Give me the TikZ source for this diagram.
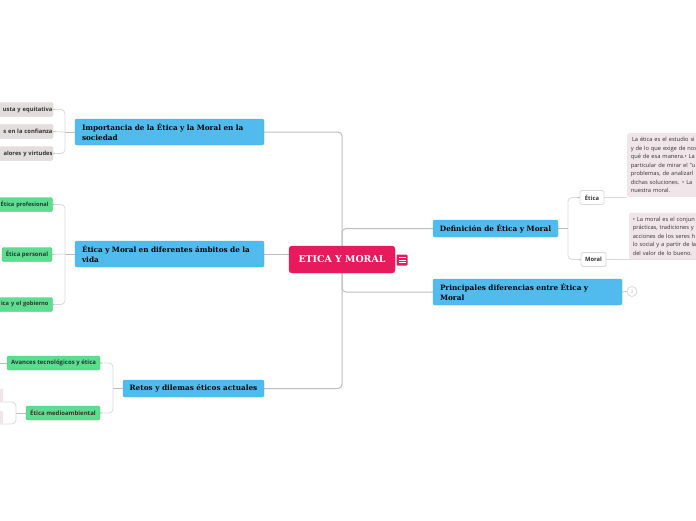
\documentclass[tikz,border=0pt]{standalone}
\usepackage{fontspec}
\setmainfont{Open Sans}
\newfontfamily\slabfont{DejaVu Serif}
\usetikzlibrary{arrows.meta}
\pgfdeclarelayer{lines}
\pgfsetlayers{lines,main}
\definecolor{rootcol}{HTML}{E81A5E}
\definecolor{bluecol}{HTML}{52BBEE}
\definecolor{blueedge}{HTML}{45AEE2}
\definecolor{greencol}{HTML}{5CDD90}
\definecolor{greenedge}{HTML}{4CC87E}
\definecolor{greycol}{HTML}{E3DDDE}
\definecolor{greyedge}{HTML}{D8D2D3}
\definecolor{notecol}{HTML}{F0E6E9}
\definecolor{linecol}{HTML}{BDBDBD}
\definecolor{lightline}{HTML}{DADADA}
\definecolor{inkcol}{HTML}{333333}
\tikzset{
	rootbox/.style={draw=rootcol, fill=rootcol, rounded corners=3, text=white, font=\slabfont\bfseries\fontsize{9.4}{10}\selectfont, minimum width=106, minimum height=27, inner sep=0},
	mainbox/.style={draw=blueedge, fill=bluecol, rounded corners=2, text=black, font=\slabfont\bfseries\fontsize{7.3}{9.8}\selectfont, align=left, inner sep=0, minimum height=17},
	greenbox/.style={draw=greenedge, fill=greencol, rounded corners=1.5, text=inkcol, font=\bfseries\fontsize{6}{7}\selectfont, minimum height=14, inner sep=0},
	cutgreen/.style={greenbox, font=\bfseries\fontsize{5.7}{7}\selectfont, minimum width=73, text width=65, align=right},
	greybox/.style={draw=greyedge, fill=greycol, rounded corners=1.5, text=inkcol, font=\bfseries\fontsize{5.8}{7}\selectfont, minimum width=73, text width=72, align=right, minimum height=14, inner sep=0},
	whitebox/.style={draw=lightline, line width=0.8, fill=white, rounded corners=2, text=inkcol, font=\bfseries\fontsize{5.8}{7}\selectfont, minimum height=14, inner sep=0},
	notebox/.style={fill=notecol, rounded corners=1.5, text=inkcol, font=\fontsize{5.7}{8.55}\selectfont, align=left, anchor=north west, inner xsep=3.6, inner ysep=4, text width=84},
	mainline/.style={draw=linecol, line width=1, rounded corners=4},
	subline/.style={draw=lightline, line width=0.8, rounded corners=4, {Circle[length=1.6pt,color=linecol]}-},
}
\begin{document}
\begin{tikzpicture}[x=1pt, y=-1pt]
	\useasboundingbox (0, 0) rectangle (696, 520);

	\coordinate (defhub) at (568, 228.5);
	\coordinate (imphub) at (65, 132);
	\coordinate (ambhub) at (65, 254);
	\coordinate (retohub) at (113, 388.5);
	\coordinate (medhub) at (16, 413);
	\coordinate (pinkend) at (0, 424);
	\coordinate (pinkstart) at (0, 402);
	\coordinate (avancesend) at (0, 363);
	\coordinate (moralend) at (696, 259.5);

	% root and first level
	\node[rootbox] (root) at (342, 259.5) {ETICA Y MORAL};
	\node[mainbox, minimum width=189, text width=175, minimum height=26] (importancia) at (169.5, 132) {Importancia de la Ética y la Moral en la\\sociedad};
	\node[mainbox, minimum width=189, text width=175, minimum height=26] (ambitos) at (169.5, 254) {Ética y Moral en diferentes ámbitos de la\\vida};
	\node[mainbox, minimum width=141] (retos) at (193.5, 388.5) {Retos y dilemas éticos actuales};
	\node[mainbox, minimum width=125] (definicion) at (495.5, 228.5) {Definición de Ética y Moral};
	\node[mainbox, minimum width=189, text width=175, minimum height=26] (diferencias) at (527.5, 292) {Principales diferencias entre Ética y\\Moral};

	% left leaves, cut by the page edge
	\node[greybox] (justa) at (16.5, 109.5) {usta y equitativa};
	\node[greybox] (confianza) at (16.5, 131.5) {s en la confianza};
	\node[greybox] (valores) at (16.5, 153.5) {alores y virtudes};
	\node[cutgreen] (profesional) at (16, 204.5) {Ética profesional};
	\node[greenbox, minimum width=50] (personal) at (27, 254.5) {Ética personal};
	\node[cutgreen] (gobierno) at (16, 304.5) {ica y el gobierno};
	\node[greenbox, minimum width=93] (avances) at (53.5, 363) {Avances tecnológicos y ética};
	\node[greenbox, minimum width=74] (medio) at (63, 413) {Ética medioambiental};
	\node[fill=notecol, minimum width=6, minimum height=13, inner sep=0] (pinka) at (0, 395.5) {};
	\node[fill=notecol, minimum width=6, minimum height=13, inner sep=0] (pinkb) at (0, 417) {};

	% right leaves
	\node[whitebox, minimum width=24] (etica) at (592, 197.5) {Ética};
	\node[whitebox, minimum width=25] (moral) at (593.5, 259.5) {Moral};
	\node[notebox] (notaetica) at (627, 133) {\hspace{1.2pt}La ética es el estudio si\\y de lo que exige de nos\\qué de esa manera.• La\\particular de mirar el "u\\problemas, de analizarl\\dichas soluciones. •  La\\nuestra moral.};
	\node[notebox] (notamoral) at (629, 212.5) {• La moral es el conjun\\prácticas, tradiciones y\\acciones de los seres h\\lo social y a partir de la\\del valor de lo bueno.};

	% small marks
	\node[draw=lightline, line width=0.8, fill=white, circle, minimum size=10, inner sep=0, text=linecol, font=\fontsize{4.5}{5}\selectfont] (contador) at (632, 291.5) {3};
	\node[fill=rootcol, rounded corners=1, minimum width=11, minimum height=11, inner sep=0] (icono) at (402, 260) {};
	\foreach \i in {0, ..., 2} {
		\draw [white, line width=0.6] (398.5, 257.7 + 2.3*\i) -- (405.5, 257.7 + 2.3*\i);
	}

	\begin{pgfonlayer}{lines}
		\draw [mainline] (root.north) |- (importancia.east);
		\draw [mainline] (ambitos.east) -- (ambitos.east -| root.west);
		\draw [mainline] (root.south) |- (retos.east);
		\draw [mainline] (root.north) |- (definicion.west);
		\draw [mainline] (root.south) |- (diferencias.west);

		\draw [mainline] (definicion.east) -- (defhub);
		\draw [subline] (etica.west) -| (defhub);
		\draw [subline] (moral.west) -| (defhub);
		\draw [draw=lightline, line width=0.8] (etica.east) -- (etica.east -| notaetica.west);
		\draw [draw=lightline, line width=0.8] (moral.east) -- (moralend);
		\draw [draw=linecol, line width=0.8] (diferencias.east) -- (contador.west);

		\draw [mainline] (importancia.west) -- (imphub);
		\draw [subline] (justa.east) -| (imphub);
		\draw [subline] (confianza.east) -- (imphub);
		\draw [subline] (valores.east) -| (imphub);

		\draw [mainline] (ambitos.west) -- (ambhub);
		\draw [subline] (profesional.east) -| (ambhub);
		\draw [subline] (personal.east) -- (ambhub);
		\draw [subline] (gobierno.east) -| (ambhub);

		\draw [mainline] (retos.west) -- (retohub);
		\draw [subline] (avances.east) -| (retohub);
		\draw [subline] (medio.east) -| (retohub);

		\draw [mainline] (medio.west) -- (medhub);
		\draw [draw=lightline, line width=0.8, rounded corners=4] (pinkstart) -| (medhub) |- (pinkend);
		\draw [mainline] (avances.west) -- (avancesend);
	\end{pgfonlayer}
\end{tikzpicture}
\end{document}
